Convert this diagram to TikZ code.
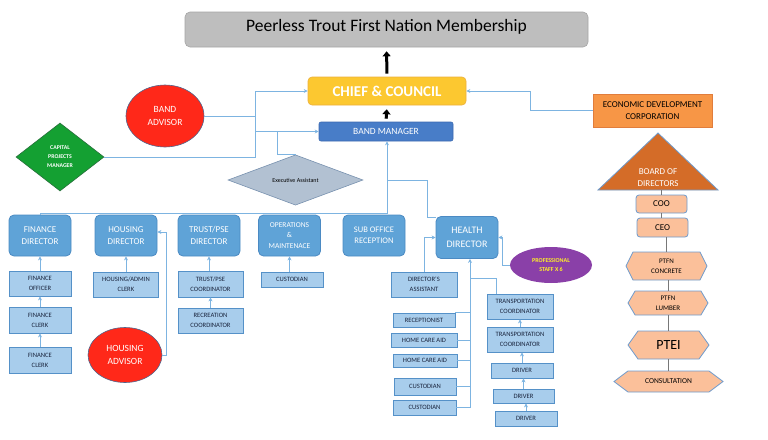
\documentclass[tikz,border=0pt]{standalone}
\usepackage{fontspec}
\setmainfont{Carlito}
\usepackage{tikz}
\usetikzlibrary{shapes.geometric, shapes.symbols, arrows.meta, positioning}
\definecolor{myconn}{RGB}{125,180,225}
\definecolor{mydirfill}{RGB}{95,163,215}
\definecolor{mydiredge}{RGB}{75,138,195}
\definecolor{mysubfill}{RGB}{168,205,236}
\definecolor{mysubedge}{RGB}{85,145,200}
\definecolor{mysubtext}{RGB}{25,35,60}
\definecolor{mymgr}{RGB}{72,125,200}
\definecolor{mymgredge}{RGB}{60,105,175}
\definecolor{mychief}{RGB}{252,200,48}
\definecolor{mychiefedge}{RGB}{235,175,60}
\definecolor{mytitle}{RGB}{190,190,190}
\definecolor{mytitleedge}{RGB}{165,165,165}
\definecolor{myred}{RGB}{255,40,25}
\definecolor{myadvedge}{RGB}{80,100,140}
\definecolor{mygreen}{RGB}{20,160,50}
\definecolor{mygreenedge}{RGB}{40,110,60}
\definecolor{myexec}{RGB}{178,193,210}
\definecolor{myexecedge}{RGB}{120,145,175}
\definecolor{mypurple}{RGB}{138,64,168}
\definecolor{myyellow}{RGB}{255,240,40}
\definecolor{myorange}{RGB}{247,150,70}
\definecolor{myorangeedge}{RGB}{225,125,60}
\definecolor{myboard}{RGB}{212,108,40}
\definecolor{mypeach}{RGB}{251,192,154}
\definecolor{myhexedge}{RGB}{110,155,205}
\definecolor{mygrayline}{RGB}{120,120,120}
\tikzset{
  titlebox/.style={rectangle, draw=mytitleedge, fill=mytitle, rounded corners=5pt,
    minimum width=403pt, minimum height=35pt, text depth=9pt,
    font=\fontsize{17.5}{20}\selectfont, line width=0.6pt},
  chiefbox/.style={rectangle, draw=mychiefedge, fill=mychief, rounded corners=4pt,
    minimum width=158pt, minimum height=28pt, text=white,
    font=\fontsize{15}{17}\selectfont\bfseries, line width=0.6pt},
  mgrbox/.style={rectangle, draw=mymgredge, fill=mymgr, rounded corners=2pt,
    minimum width=134pt, minimum height=19pt, text=white, inner sep=0pt,
    font=\fontsize{9.5}{11}\selectfont, line width=0.6pt},
  dirbox/.style={rectangle, rounded corners=5pt, draw=mydiredge, fill=mydirfill,
    text=white, align=center, minimum width=62pt, minimum height=41pt, inner sep=1pt,
    font=\fontsize{9}{12.5}\selectfont, line width=0.8pt},
  subbox/.style={rectangle, draw=mysubedge, fill=mysubfill, text=mysubtext,
    align=center, minimum width=62pt, minimum height=25pt, inner sep=1pt,
    font=\fontsize{6.6}{10}\selectfont, line width=0.8pt},
  advisor/.style={ellipse, draw=myadvedge, fill=myred, text=white, align=center,
    inner sep=0pt, font=\fontsize{9.5}{12.5}\selectfont, line width=0.6pt},
  hexbox/.style={signal, signal to=west and east, draw=myhexedge, fill=mypeach,
    align=center, inner sep=0pt, font=\fontsize{7}{10}\selectfont, line width=0.8pt},
  peachbox/.style={rectangle, rounded corners=3pt, draw=myhexedge, fill=mypeach,
    minimum width=51pt, minimum height=18pt, inner sep=0pt,
    font=\fontsize{9}{11}\selectfont, line width=0.8pt},
  conn/.style={draw=myconn, line width=0.9pt},
  connarrow/.style={conn, -{Stealth[length=4pt,width=4pt]}},
  bigarrow/.style={-{Triangle[length=5pt,width=8pt]}, line width=3pt, black,
    shorten <=3pt, shorten >=4pt},
  grayline/.style={draw=mygrayline, line width=0.9pt}
}
\begin{document}
\begin{tikzpicture}[x=1pt, y=-1pt]
  \useasboundingbox (0,0) rectangle (768,439);

  % Membership, council and manager
  \node[titlebox] (title) at (386.5,29.5) {Peerless Trout First Nation Membership};
  \node[chiefbox] (chief) at (387,91) {CHIEF \& COUNCIL};
  \node[mgrbox] (bandmgr) at (386,131.5) {BAND MANAGER};
  \draw[bigarrow] (chief.north) -- (title.south);
  \draw[bigarrow] (bandmgr.north) -- (chief.south);

  % Advisors on the left
  \node[advisor, minimum width=78pt, minimum height=62pt] (bandadv) at (165,116) {BAND\\ADVISOR};
  \node[diamond, draw=mygreenedge, fill=mygreen, text=white, align=center, inner sep=0pt,
    minimum width=88pt, minimum height=68pt, font=\fontsize{5.8}{9}\selectfont\bfseries,
    line width=0.6pt] (capproj) at (60,157) {CAPITAL\\PROJECTS\\MANAGER};
  \node[diamond, draw=myexecedge, fill=myexec, inner sep=0pt, minimum width=135pt,
    minimum height=40pt, font=\fontsize{6}{7}\selectfont, line width=0.6pt]
    (execasst) at (295.5,180) {Executive Assistant};

  \coordinate (leftbus) at (255,91);
  \coordinate (eaTap) at (277,131.5);
  \draw[connarrow] (capproj.east) -| (leftbus) -- (chief.west);
  \draw[conn] (bandadv.east) -- (bandadv.east -| leftbus);
  \draw[connarrow] (bandmgr.west -| leftbus) -- (bandmgr.west);
  \draw[conn] (eaTap) |- (execasst.north);

  % Directors
  \node[dirbox] (findir) at (40,235.5) {FINANCE\\DIRECTOR};
  \node[dirbox] (housedir) at (126,235.5) {HOUSING\\DIRECTOR};
  \node[dirbox] (trustdir) at (209,235.5) {TRUST/PSE\\DIRECTOR};
  \node[dirbox, font=\fontsize{7.5}{10.5}\selectfont] (opsdir) at (289.5,235.5) {OPERATIONS\\\&\\MAINTENACE};
  \node[dirbox, font=\fontsize{8.5}{11}\selectfont] (subofc) at (374,235.5) {SUB OFFICE\\RECEPTION};
  \node[dirbox, minimum height=42pt, font=\fontsize{10}{13.5}\selectfont] (healthdir) at (467,237.5) {HEALTH\\DIRECTOR};

  \coordinate (bus) at (387,213);
  \coordinate (hTap) at (387,180);
  \coordinate (hBend) at (427,217);
  \draw[connarrow] (findir.north) |- (bus) -- (bandmgr.south -| bus);
  \draw[conn] (hTap) -| (hBend) -- (hBend -| healthdir.west);

  % Finance staff
  \node[subbox] (finofficer) at (40,283.5) {FINANCE\\OFFICER};
  \node[subbox, minimum height=26pt] (finclerkA) at (40,320) {FINANCE\\CLERK};
  \node[subbox, minimum height=26pt] (finclerkB) at (40,360) {FINANCE\\CLERK};
  \draw[connarrow] (finofficer.north) -- (findir.south);
  \draw[connarrow] (finclerkA.north) -- (finofficer.south);
  \draw[connarrow] (finclerkB.north) -- (finclerkA.south);

  % Housing staff
  \node[subbox, minimum width=65pt] (houseclerk) at (126,284.5) {HOUSING/ADMIN\\CLERK};
  \node[advisor, minimum width=74pt, minimum height=55pt] (houseadv) at (125,355) {HOUSING\\ADVISOR};
  \coordinate (haBend) at (166,232);
  \draw[connarrow] (houseclerk.north) -- (housedir.south);
  \draw[connarrow] (houseadv.east) -| (haBend) -- (haBend -| housedir.east);

  % Trust/PSE and operations staff
  \node[subbox, minimum width=65pt, minimum height=26pt] (trustcoord) at (210.5,284) {TRUST/PSE\\COORDINATOR};
  \node[subbox, minimum width=65pt] (reccoord) at (210.5,320.5) {RECREATION\\COORDINATOR};
  \node[subbox, minimum height=15pt] (opscust) at (292,279.5) {CUSTODIAN};
  \draw[connarrow] (trustcoord.north -| trustdir) -- (trustdir.south);
  \draw[connarrow] (reccoord.north) -- (trustcoord.south);
  \draw[connarrow] (opscust.north -| opsdir) -- (opsdir.south);

  % Health staff
  \node[subbox, minimum width=66pt] (dirasst) at (424,284.5) {DIRECTOR'S\\ASSISTANT};
  \node[subbox, minimum height=14pt] (recept) at (424,320) {RECEPTIONIST};
  \node[subbox, minimum width=66pt, minimum height=14pt] (homecareA) at (424,340) {HOME CARE AID};
  \node[subbox, minimum width=64pt, minimum height=13pt] (homecareB) at (425,360.5) {HOME CARE AID};
  \node[subbox, minimum height=17pt] (custodA) at (425,386.5) {CUSTODIAN};
  \node[subbox, minimum width=63pt, minimum height=15pt] (custodB) at (424.5,407.5) {CUSTODIAN};
  \node[ellipse, fill=mypurple, text=myyellow, align=center, inner sep=0pt,
    minimum width=82pt, minimum height=36pt, font=\fontsize{6}{9}\selectfont\bfseries]
    (profstaff) at (551,265) {PROFESSIONAL\\STAFF X 6};

  \coordinate (hTrunk) at (470,408);
  \coordinate (tcTap) at (470,278);
  \draw[connarrow] (dirasst.north) |- (healthdir.west);
  \draw[connarrow] (profstaff.west) -- ++(-7,0) |- (healthdir.east);
  \draw[connarrow] (hTrunk) -- (healthdir.south -| hTrunk);
  \draw[conn] (recept.north east) -- (recept.north east -| hTrunk);
  \draw[conn] (homecareA.east) -- (homecareA.east -| hTrunk);
  \draw[conn] (homecareB.east) -- (homecareB.east -| hTrunk);
  \draw[conn] (custodA.east) -- (custodA.east -| hTrunk);
  \draw[conn] (custodB.east) -- (custodB.east -| hTrunk);

  \node[subbox, minimum width=66pt] (transA) at (520,306.5) {TRANSPORTATION\\COORDINATOR};
  \node[subbox, minimum width=66pt] (transB) at (520,339.5) {TRANSPORTATION\\COORDINATOR};
  \node[subbox, minimum height=15pt] (driverA) at (522,370.5) {DRIVER};
  \node[subbox, minimum width=61pt, minimum height=14pt] (driverB) at (523.5,396) {DRIVER};
  \node[subbox, minimum height=15pt] (driverC) at (526,418.5) {DRIVER};
  \draw[conn] (tcTap) -| ([xshift=-24pt]transA.north);
  \draw[connarrow] (transB.north) -- (transA.south);
  \draw[connarrow] (driverA.north) -- (driverA.north |- transB.south);
  \draw[connarrow] (driverB.north) -- (driverB.north |- driverA.south);
  \draw[connarrow] (driverC.north) -- (driverC.north |- driverB.south);

  % Economic development side
  \node[rectangle, draw=myorangeedge, fill=myorange, align=center, minimum width=119pt,
    minimum height=33pt, font=\fontsize{9}{12.5}\selectfont, line width=0.6pt]
    (edc) at (652.5,110.5) {ECONOMIC DEVELOPMENT\\CORPORATION};
  \coordinate (edcBend) at (530,110.5);
  \draw[connarrow] (edc.west) -- (edcBend) |- (chief.east);

  \draw[fill=myboard, draw=myhexedge, line width=0.8pt] (658,133) -- (718,190) -- (598,190) -- cycle;
  \node[text=white, align=center, font=\fontsize{9}{12}\selectfont] (board) at (658,178) {BOARD OF\\DIRECTORS};
  \coordinate (boardbase) at (661,190);

  \node[peachbox] (coo) at (661.5,204) {COO};
  \node[peachbox, minimum height=19pt] (ceo) at (662.5,227.5) {CEO};
  \node[hexbox, minimum width=81pt, minimum height=28pt, signal pointer angle=127] (concrete) at (666.5,266) {PTFN\\CONCRETE};
  \node[hexbox, minimum width=80pt, minimum height=24pt, signal pointer angle=119] (lumber) at (668,303) {PTFN\\LUMBER};
  \node[hexbox, minimum width=81pt, minimum height=28pt, signal pointer angle=109,
    font=\fontsize{14}{16}\selectfont] (ptei) at (668.5,345) {PTEI};
  \node[hexbox, minimum width=109pt, minimum height=21pt, signal pointer angle=74,
    font=\fontsize{7.5}{9}\selectfont] (consult) at (668.5,381.5) {CONSULTATION};

  \draw[grayline] (coo.north) -- (coo.north |- boardbase);
  \draw[grayline] (coo.south) -- (coo.south |- ceo.north);
  \draw[grayline] (concrete.north) -- (concrete.north |- ceo.south);
  \draw[grayline] (lumber.north) -- (lumber.north |- concrete.south);
  \draw[grayline] (ptei.north) -- (ptei.north |- lumber.south);
  \draw[grayline] (consult.north) -- (consult.north |- ptei.south);
\end{tikzpicture}
\end{document}
